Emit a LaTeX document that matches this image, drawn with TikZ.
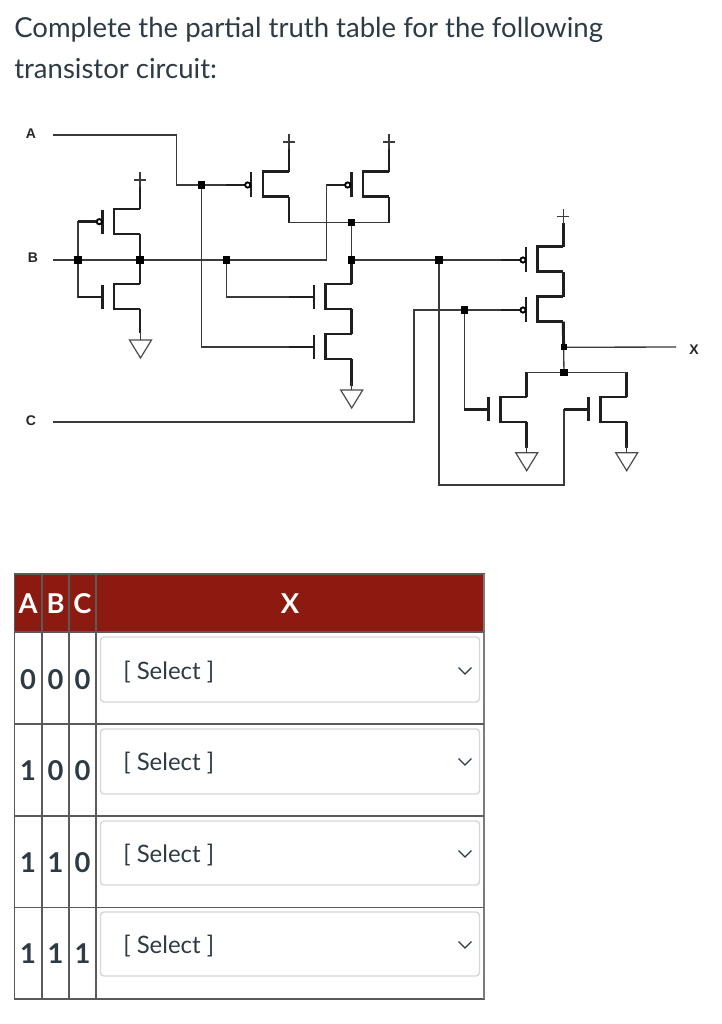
\documentclass[tikz,border=0pt]{standalone}
\usepackage{fontspec}
\setmainfont{Lato}
\newfontfamily\arialb{Liberation Sans}[BoldFont={Liberation Sans Bold}]
\definecolor{ink}{HTML}{2D3B45}
\definecolor{hdr}{HTML}{8C1A10}
\definecolor{grid}{HTML}{5A5A5A}
\definecolor{wire}{HTML}{3A3A3A}
\definecolor{boxline}{HTML}{D7D7D7}
\tikzset{
  wirel/.style={draw=wire,line width=1pt},
  thickw/.style={draw=black!88,line width=2.2pt,line join=miter},
  dotn/.style={fill=black,draw=none,minimum size=5.4pt,inner sep=0pt,rectangle},
  sigl/.style={font=\arialb\bfseries\fontsize{10.5pt}{11pt}\selectfont,text=black!85,inner sep=0pt},
  tabline/.style={draw=grid,line width=.9pt},
  hdrt/.style={text=white,font=\bfseries\fontsize{20.5pt}{22pt}\selectfont,inner sep=0pt},
  dig/.style={text=ink,font=\bfseries\fontsize{20.5pt}{22pt}\selectfont,inner sep=0pt},
  seltext/.style={text=ink,font=\fontsize{18pt}{22pt}\selectfont,inner sep=0pt,anchor=west},
  selbox/.style={draw=boxline,fill=white,line width=1.05pt,rounded corners=2.6pt},
  chev/.style={draw=ink,line width=.9pt},
  body/.style={text=ink,font=\fontsize{20.65pt}{24pt}\selectfont,inner sep=0pt,anchor=base west}
}
\newcommand{\chan}[3]{%
  \coordinate (#1t) at (#2,#3);
  \coordinate (#1b) at (#2,#3+25);
  \draw[thickw] (#1t) -- ++(-26,0) -- ++(0,25) -- (#1b);}
\newcommand{\gatebar}[3]{\draw[thickw] (#1,#2) -- (#1,#3);}
\newcommand{\bub}[2]{\draw[draw=black,line width=1.4pt,fill=white] (#1,#2) circle [radius=1.95pt];}
\newcommand{\vdd}[2]{\draw[wirel] (#1-6,#2) -- (#1+6,#2) (#1,#2-8) -- (#1,#2+7);}
\newcommand{\gnd}[2]{\draw[draw=black!70,line width=.9pt,fill=white] (#1-11,#2) -- (#1+11,#2) -- (#1,#2+18) -- cycle;\draw[wirel] (#1,#2-8) -- (#1,#2);}
\begin{document}
\begin{tikzpicture}[x=0.75pt,y=-0.75pt]
\useasboundingbox (0,0) rectangle (721,1024);
\fill[white] (0,0) rectangle (721,1024);
% title
\node[body] (t1) at (14,38) {Complete the partial truth table for the following};
\node[body] (t2) at (14,79) {transistor circuit:};
% signal labels
\node[sigl] (la) at (31,134) {A};
\node[sigl] (lb) at (33,258) {B};
\node[sigl] (lc) at (31,421) {C};
\node[sigl] (lx) at (694,350) {X};
% terminals
\coordinate (ain) at (53,135);
\coordinate (bin) at (53,260);
\coordinate (cin) at (53,422);
\coordinate (xout) at (676,347);
% channels
\chan{p1}{140}{209}
\chan{n1}{140}{284}
\chan{p2}{289}{171.7}
\chan{p3}{389}{171.7}
\chan{n2}{351.7}{284}
\chan{n3}{351.7}{334}
\chan{p4}{563.3}{246.7}
\chan{p5}{563.3}{296.7}
\chan{n4}{526.7}{397}
\chan{n5}{626.7}{397}
% junction positions
\coordinate (ja) at (201.7,185);
\coordinate (jb) at (78,260);
\coordinate (jo1) at (140,260);
\coordinate (jg) at (226.7,260);
\coordinate (jm) at (351.7,222.3);
\coordinate (jo2) at (351.7,260);
\coordinate (jn) at (439,260);
\coordinate (jc) at (464.3,310);
\coordinate (jx) at (563.6,347.3);
\coordinate (jy) at (564,372.3);
% channel links
\draw[thickw] (p1t) -- ++(0,-24);
\draw[thickw] (p1b) -- (n1t);
\draw[thickw] (n1b) -- ++(0,24);
\draw[thickw] (p2t) -- ++(0,-24);
\draw[thickw] (p3t) -- ++(0,-24);
\draw[thickw] (p2b) -- ++(0,26);
\draw[thickw] (p3b) -- ++(0,26);
\draw[thickw] (jo2) -- (n2t);
\draw[thickw] (n2b) -- (n3t);
\draw[thickw] (n3b) -- ++(0,27);
\draw[thickw] (p4t) -- ++(0,-24);
\draw[thickw] (p4b) -- (p5t);
\draw[thickw] (p5b) -- (jx);
\draw[thickw] (n4t) -- ++(0,-25);
\draw[thickw] (n4b) -- ++(0,26);
\draw[thickw] (n5t) -- ++(0,-25);
\draw[thickw] (n5b) -- ++(0,26);
% supplies and grounds
\vdd{140}{180}
\vdd{289}{142}
\vdd{389}{142}
\vdd{563.3}{216.7}
\gnd{140.5}{340}
\gnd{351.7}{390}
\gnd{526.7}{452.7}
\gnd{626.7}{452.7}
% wires
\draw[wirel] (ain) -- (176.7,135) -- (176.7,185) -- (ja) -- (226,185);
\draw[wirel] (ja) -- (201.7,347) -- (290,347);
\draw[wirel] (bin) -- (jb);
\draw[wirel] (jb) -- (jo1) -- (jg) -- (326.7,260) -- (326.7,185) -- (335,185);
\draw[wirel] (jg) -- (226.7,297) -- (290,297);
\draw[wirel] (289,222.3) -- (jm) -- (389,222.3);
\draw[wirel] (jm) -- (jo2) -- (jn) -- (501,260);
\draw[wirel] (jn) -- (439,485) -- (564,485) -- (564,409.3);
\draw[wirel] (cin) -- (414,422) -- (414,310) -- (jc) -- (501,310);
\draw[wirel] (jc) -- (464.3,409.3);
\draw[wirel] (jx) -- (xout);
\draw[wirel] (jx) -- (jy);
\draw[wirel] (526.7,372.3) -- (jy) -- (626.7,372.3);
% left pair gates
\draw[wirel] (jb) -- (78,221.7) -- (96,221.7);
\draw[wirel] (jb) -- (78,297) -- (102.7,297);
\draw[thickw] (78,221.7) -- (96,221.7);
\draw[thickw] (78,297) -- (102.7,297);
\gatebar{102.7}{210}{234}
\gatebar{102.7}{285}{309}
\bub{99.3}{221.7}
% top gates
\draw[thickw] (226,185) -- (245,185);
\gatebar{251}{172}{197}
\bub{247.7}{185}
\draw[thickw] (326.7,185) -- (345,185);
\gatebar{351.7}{172}{197}
\bub{347.7}{185}
% nmos stack gates
\draw[thickw] (289,297) -- (314,297);
\gatebar{314}{285}{309}
\draw[thickw] (289,347) -- (314,347);
\gatebar{314}{335}{359}
% right gates
\draw[thickw] (501,260) -- (520,260);
\gatebar{526}{247}{272}
\bub{523}{260}
\draw[thickw] (501,310) -- (520,310);
\gatebar{526}{297}{322}
\bub{523}{310}
\draw[thickw] (464.3,409.3) -- (488.7,409.3);
\gatebar{488.7}{397}{421}
\draw[thickw] (564,409.3) -- (588.7,409.3);
\gatebar{588.7}{397}{421}
% junction dots
\node[dotn] (dja) at (ja) {};
\node[dotn] (djb) at (jb) {};
\node[dotn] (djo1) at (jo1) {};
\node[dotn] (djg) at (jg) {};
\node[dotn] (djm) at (jm) {};
\node[dotn] (djo2) at (jo2) {};
\node[dotn] (djn) at (jn) {};
\node[dotn] (djc) at (jc) {};
\node[dotn,minimum size=4.4pt] (djx) at (jx) {};
\node[dotn] (djy) at (jy) {};
% table
\fill[hdr] (14.5,574) rectangle (484,632);
\draw[tabline] (14.5,574) rectangle (484,999);
\draw[draw=grid!80,line width=1.5pt] (484,574) -- (484,999);
\foreach \yy in {632,724,816,907.5}{\draw[tabline] (14.5,\yy) -- (484,\yy);}
\foreach \xx in {42,69,96}{\draw[tabline] (\xx,574) -- (\xx,999);}
\node[hdrt] (ha) at (28,603.5) {A};
\node[hdrt] (hb) at (55.5,603.5) {B};
\node[hdrt] (hc) at (82.5,603.5) {C};
\node[hdrt] (hx) at (290,603.5) {X};
\foreach \na/\a/\b/\c/\dy/\bt/\bb in {r1/0/0/0/680/637/702,r2/1/0/0/771/729/794,r3/1/1/0/863/821/885,r4/1/1/1/954/912/976}{
  \node[dig] (\na a) at (28,\dy) {\a};
  \node[dig] (\na b) at (55.5,\dy) {\b};
  \node[dig] (\na c) at (82.5,\dy) {\c};
  \draw[selbox] (100.5,\bt) rectangle (479.5,\bb);
  \node[seltext] (\na s) at (123,\dy-8) {[ Select ]};
  \draw[chev] (458.5,\dy-12.5) -- (465,\dy-6) -- (471.5,\dy-12.5);
}
\end{tikzpicture}
\end{document}
